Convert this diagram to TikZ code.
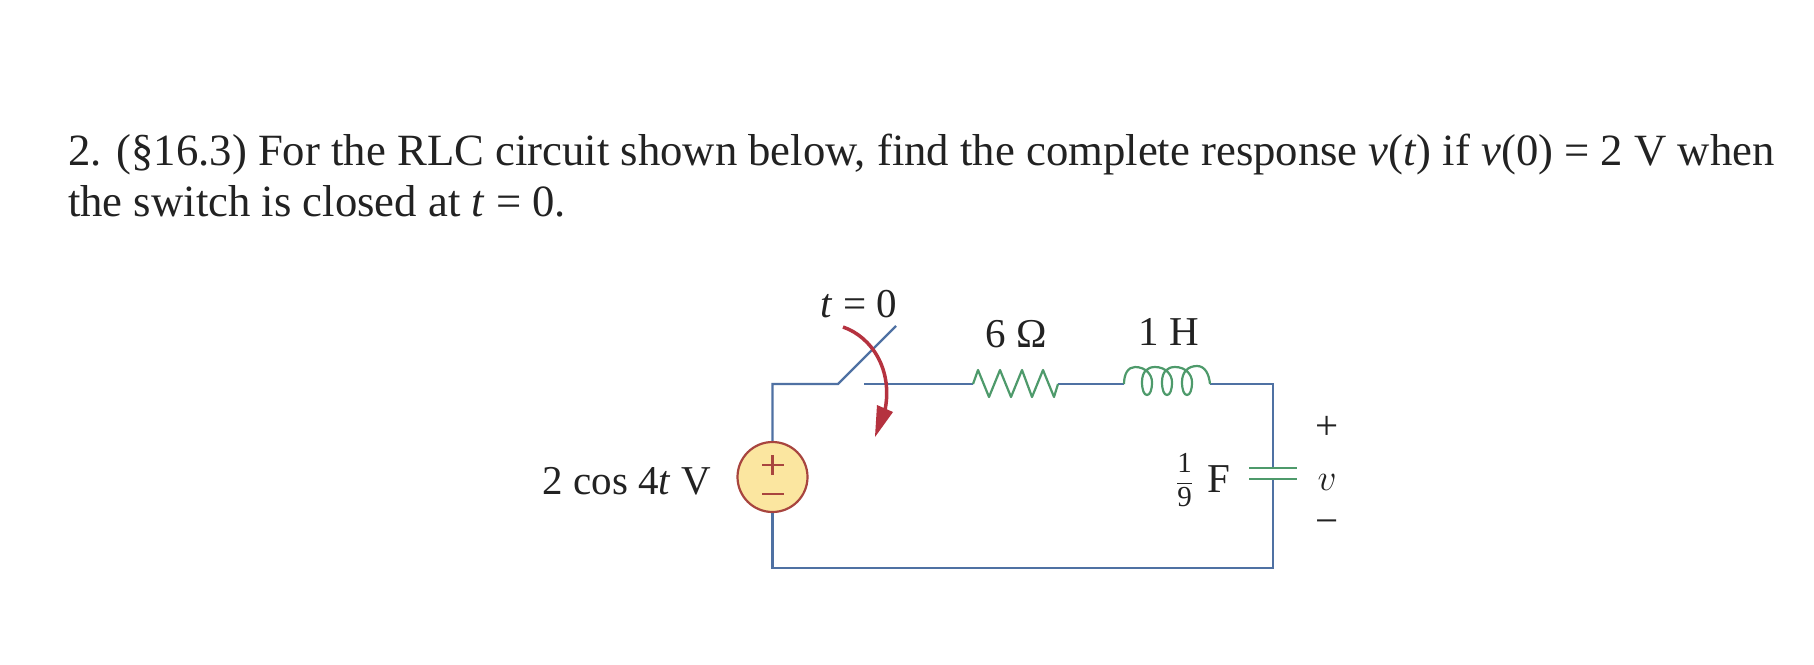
\documentclass[tikz,border=0pt]{standalone}
\usepackage{fontspec}
\setmainfont{Liberation Serif}
\definecolor{wire}{HTML}{4F71A3}
\definecolor{comp}{HTML}{4E9A6B}
\definecolor{red1}{HTML}{B5323F}
\definecolor{srcfill}{HTML}{FBE6A0}
\definecolor{srcline}{HTML}{A8453F}
\definecolor{txt}{HTML}{222222}
\newcommand{\fracdigit}[1]{\mbox{\fontsize{29}{29}\selectfont #1}}
\tikzset{x=1pt,y=-1pt,
 wirel/.style={draw=wire,line width=2.2pt},
 compl/.style={draw=comp,line width=2.2pt,line join=round},
 lbl/.style={inner sep=0pt,text=txt,font=\fontsize{41}{41}\selectfont},
 para/.style={inner sep=0pt,anchor=base west,text=txt,font=\fontsize{44.7}{44.7}\selectfont}}
\begin{document}
\begin{tikzpicture}
\useasboundingbox[fill=white] (0,0) rectangle (1814,664);
\node[para] (l1) at (68,165) {2. (§16.3) For the RLC circuit shown below, find the complete response \textit{v}(\textit{t}) if \textit{v}(0) = 2 V when};
\node[para] (l2) at (68,216) {the switch is closed at \textit{t} = 0.};
\coordinate (tl) at (772.5,384);
\coordinate (sw) at (838,384);
\coordinate (swt) at (896,326);
\coordinate (c2) at (864,384);
\coordinate (r1) at (973,384);
\coordinate (r2) at (1058,384);
\coordinate (l1a) at (1124,384);
\coordinate (l2a) at (1210,384);
\coordinate (tr) at (1273,384);
\coordinate (capt) at (1273,468);
\coordinate (capb) at (1273,479);
\coordinate (br) at (1273,568);
\coordinate (bl) at (772.5,568);
\node[circle,draw=srcline,fill=srcfill,line width=2.2pt,minimum size=70pt,inner sep=0pt] (src) at (772.5,477) {};
\draw[wirel,line join=miter] (src.north) -- (tl) -- (sw) -- (swt);
\draw[wirel] (c2) -- (r1);
\draw[wirel] (r2) -- (l1a);
\draw[wirel] (l2a) -- (tr) -- (capt);
\draw[wirel] (capb) -- (br) -- (bl) -- (src.south);
\draw[compl] (r1) -- (978,370) -- (989,397) -- (1000,370) -- (1011,397) -- (1022,370) -- (1032,397) -- (1043,370) -- (1054,397) -- (r2);
\draw[compl] (l1a) .. controls (1124,374) and (1128,367) .. (1135,367)
 .. controls (1146,367) and (1152,375) .. (1152,382) .. controls (1152,390) and (1150,395) .. (1147,395)
 .. controls (1144,395) and (1142,390) .. (1142,382) .. controls (1142,372) and (1147,367) .. (1155,367)
 .. controls (1166,367) and (1172,375) .. (1172,382) .. controls (1172,390) and (1170,395) .. (1167,395)
 .. controls (1164,395) and (1162,390) .. (1162,382) .. controls (1162,372) and (1167,367) .. (1175,367)
 .. controls (1186,367) and (1192,375) .. (1192,382) .. controls (1192,390) and (1190,395) .. (1187,395)
 .. controls (1184,395) and (1182,390) .. (1182,382) .. controls (1182,372) and (1188,366) .. (1197,366)
 .. controls (1205,366) and (1209,374) .. (l2a);
\draw[compl] (1249,468) -- (1297,468);
\draw[compl] (1249,479) -- (1297,479);
\draw[draw=red1,line width=3.5pt] (843,327) .. controls (872,337) and (893,370) .. (885,410);
\fill[red1] (875,437) -- (877,405) -- (893,412) -- cycle;
\draw[srcline,line width=2.4pt] (762,465) -- (784,465) (772.5,455) -- (772.5,475) (762,494) -- (784,494);
\node[lbl] (t0) at (859,304) {\textit{t} = 0};
\node[lbl] (r) at (1016,334) {6 Ω};
\node[lbl] (ind) at (1169,332) {1 H};
\node[lbl,anchor=base east] (v) at (711,494) {2 cos 4\textit{t} V};
\node[lbl,anchor=base east] (c) at (1230,489) {$\displaystyle\frac{\fracdigit{1}}{\fracdigit{9}}$\hspace{14pt}\raisebox{-3pt}{F}};
\node[lbl] (vp) at (1327,428) {+};
\node[lbl,anchor=base,scale=1.5] (vv) at (1327,490) {$v$};
\node[lbl] (vm) at (1327,527) {−};
\end{tikzpicture}
\end{document}
